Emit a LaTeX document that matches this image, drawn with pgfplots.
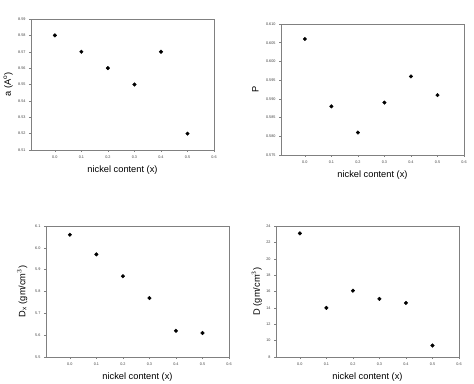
\documentclass[border=0pt]{standalone}
\usepackage{pgfplots}
\pgfplotsset{compat=1.18}
\usepackage{fontspec}
\setmainfont{Liberation Sans}
\begin{document}
\begin{tikzpicture}
\path[use as bounding box] (0bp,0bp) rectangle (474bp,384bp);
\pgfplotsset{
  pt/.style={only marks, mark=*, mark size=1.8pt, black, mark options={fill=black}},
  panel/.style={
    scale only axis, width=183bp, height=131bp,
    anchor=south west,
    xmin=-0.09, xmax=0.6,
    xtick={0,0.1,...,0.6},
    axis line style={gray, line width=0.6pt},
    tick style={gray, line width=0.5pt},
    tick align=outside, major tick length=2bp,
    xtick pos=bottom, ytick pos=left,
    tick label style={font=\fontsize{3.8}{4}\selectfont, text=black!75},
    /pgf/number format/assume math mode=true,
    xticklabel style={/pgf/number format/.cd, fixed, fixed zerofill, precision=1},
    xlabel={nickel content (x)},
    label style={font=\fontsize{9.3}{11}\selectfont},
    xlabel style={at={(axis description cs:0.5,-0.155)}, anchor=center},
  }
}
\begin{axis}[panel, at={(31bp,234bp)},
  ymin=8.51, ymax=8.59, ytick={8.51,8.52,...,8.595},
  yticklabel style={/pgf/number format/.cd, fixed, fixed zerofill, precision=2},
  ylabel={a (A$^{\mathrm{o}}$)},
  ylabel style={at={(axis description cs:-0.125,0.5)}, anchor=center}]
\addplot[pt] coordinates {(0,8.58) (0.1,8.57) (0.2,8.56) (0.3,8.55) (0.4,8.57) (0.5,8.52)};
\end{axis}
\begin{axis}[panel, at={(281bp,229bp)},
  ymin=0.575, ymax=0.610, ytick={0.575,0.580,...,0.6101},
  yticklabel style={/pgf/number format/.cd, fixed, fixed zerofill, precision=3},
  ylabel={P},
  ylabel style={at={(axis description cs:-0.14,0.5)}, anchor=center}]
\addplot[pt] coordinates {(0,0.606) (0.1,0.588) (0.2,0.581) (0.3,0.589) (0.4,0.596) (0.5,0.591)};
\end{axis}
\begin{axis}[panel, at={(46bp,27bp)},
  ymin=5.5, ymax=6.1, ytick={5.5,5.6,...,6.11},
  yticklabel style={/pgf/number format/.cd, fixed, fixed zerofill, precision=1},
  ylabel={D$_{\mathrm{x}}$ (gm/cm$^{3}$)},
  ylabel style={at={(axis description cs:-0.13,0.5)}, anchor=center}]
\addplot[pt] coordinates {(0,6.06) (0.1,5.97) (0.2,5.87) (0.3,5.77) (0.4,5.62) (0.5,5.61)};
\end{axis}
\begin{axis}[panel, at={(276bp,27bp)},
  ymin=8, ymax=24, ytick={8,10,...,24},
  ylabel={D (gm/cm$^{3}$)},
  ylabel style={at={(axis description cs:-0.105,0.5)}, anchor=center}]
\addplot[pt] coordinates {(0,23.1) (0.1,14.0) (0.2,16.1) (0.3,15.1) (0.4,14.6) (0.5,9.4)};
\end{axis}
\end{tikzpicture}
\end{document}
